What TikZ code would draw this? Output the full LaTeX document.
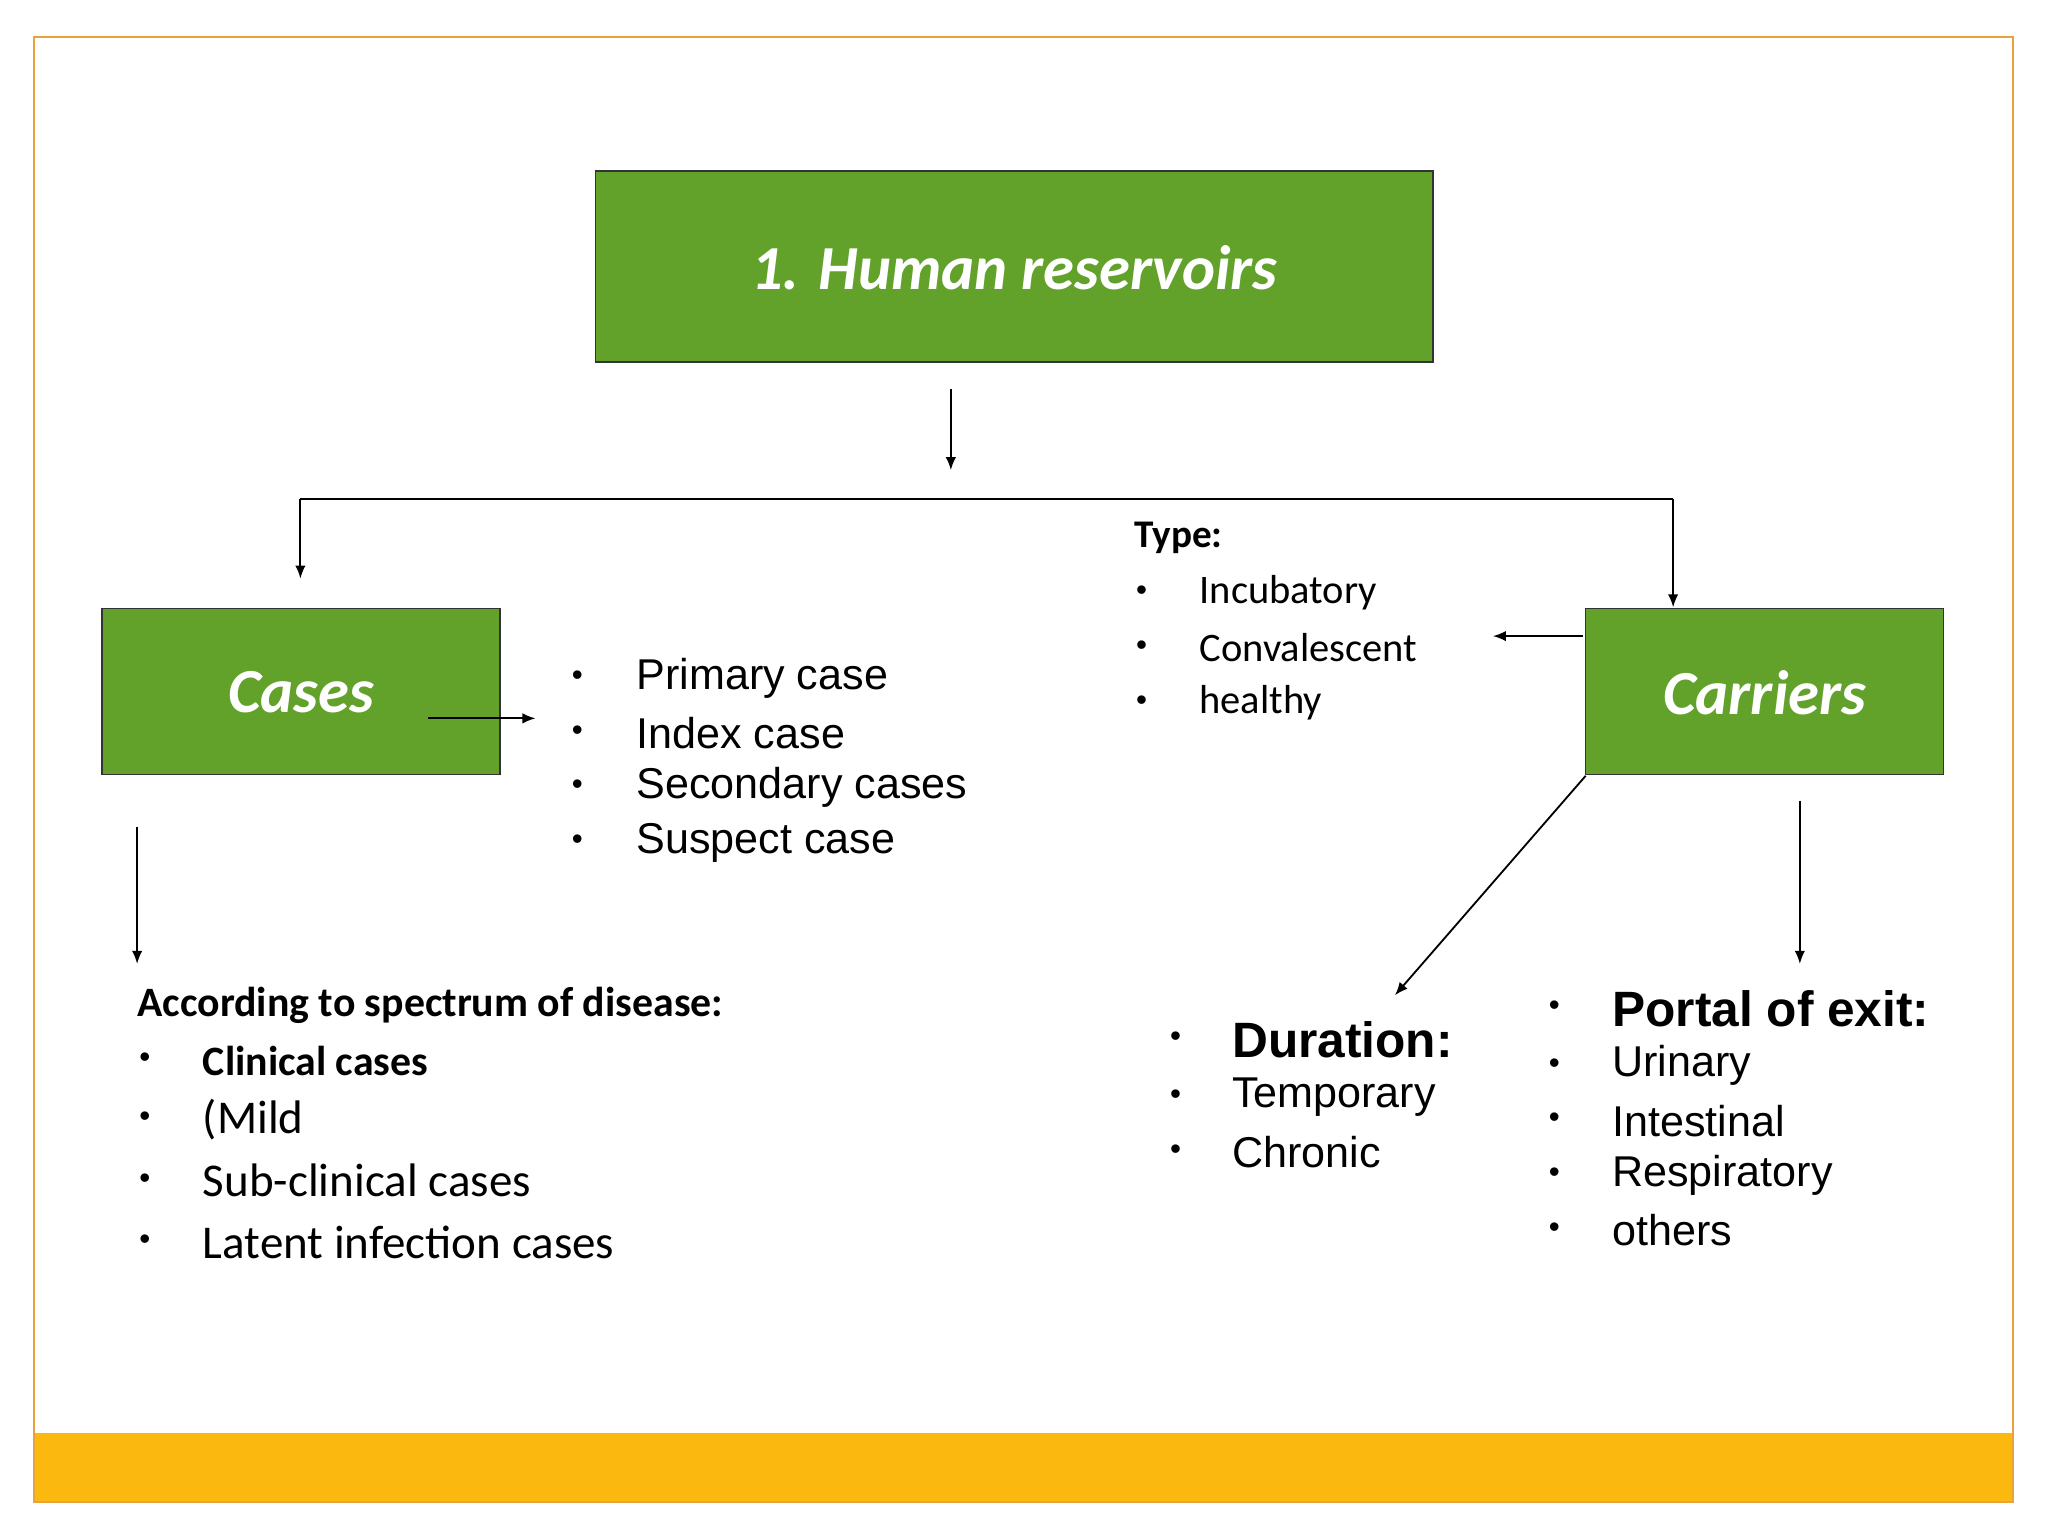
\documentclass[tikz,border=0pt]{standalone}
\usepackage{fontspec}
\setmainfont{Liberation Sans}
\newfontfamily\carl{Carlito}
\usetikzlibrary{arrows.meta}
\definecolor{gr}{HTML}{62A22B}
\definecolor{yb}{HTML}{FBB80F}
\definecolor{fr}{HTML}{E8A33A}
\begin{document}
\begin{tikzpicture}[x=0.5pt,y=-0.5pt,
  box/.style={draw=black!80,fill=gr,line width=0.6pt},
  arr/.style={-{Latex[length=5pt,width=4pt]},line width=0.7pt},
  ln/.style={line width=0.7pt},
  t/.style={anchor=west,inner sep=0pt,font=\fontsize{16.5}{18}\selectfont},
  tc/.style={anchor=west,inner sep=0pt,font=\carl\fontsize{16.5}{18}\selectfont},
  b/.style={anchor=center,inner sep=0pt,font=\fontsize{12}{14}\selectfont}]
\useasboundingbox (0,0) rectangle (1568,1176);
\fill[yb] (26,1097) rectangle (1541,1150);
\draw[fr,line width=0.8pt] (26,28) rectangle (1541,1150);
\draw[box] (456,131) rectangle (1097,277);
\node (top) at (776.5,205) {\carl\bfseries\itshape\fontsize{24}{28}\selectfont\color{white}1. Human reservoirs};
\draw[box] (78,466) rectangle (383,593);
\node (cases) at (230.5,530) {\carl\bfseries\itshape\fontsize{24}{28}\selectfont\color{white}Cases};
\draw[box] (1214,466) rectangle (1488,593);
\node (carr) at (1351,530) {\carl\bfseries\itshape\fontsize{24}{28}\selectfont\color{white}Carriers};
\coordinate (a1) at (728,298); \coordinate (a2) at (728,360);
\draw[arr] (a1) -- (a2);
\coordinate (l1) at (230,382); \coordinate (l2) at (1281,382);
\coordinate (l3) at (230,443); \coordinate (l4) at (1281,465);
\draw[ln] (l1) -- (l2);
\draw[arr] (l1) -- (l3); \draw[arr] (l2) -- (l4);
\coordinate (c1) at (328,550); \coordinate (c2) at (410,550);
\draw[arr] (c1) -- (c2);
\foreach \y/\s in {519/Primary case,561/Index case,603/Secondary cases,645/Suspect case}{
  \node[b] at (442,\y) {•}; \node[t] at (487,\y) {\s};}
\node[tc,font=\carl\bfseries\fontsize{15}{18}\selectfont] (type) at (868,412) {Type:};
\foreach \y/\s in {454/Incubatory,496/Convalescent,538/healthy}{
  \node[b] at (874,\y) {•}; \node[tc,font=\carl\fontsize{15.5}{18}\selectfont] at (918,\y) {\s};}
\coordinate (k1) at (1212,487); \coordinate (k2) at (1143,487);
\draw[arr] (k1) -- (k2);
\coordinate (d1) at (1214,594); \coordinate (d2) at (1068,762);
\draw[arr] (d1) -- (d2);
\coordinate (p1) at (1378,613); \coordinate (p2) at (1378,738);
\draw[arr] (p1) -- (p2);
\coordinate (s1) at (105,633); \coordinate (s2) at (105,738);
\draw[arr] (s1) -- (s2);
\node[tc,font=\carl\bfseries\fontsize{16}{18}\selectfont] at (105,770) {According to spectrum of disease:};
\node[b] at (111,812) {•}; \node[tc,font=\carl\bfseries\fontsize{16}{18}\selectfont] at (155,812) {Clinical cases};
\foreach \y/\s in {857/(Mild/severe-typical/atypical),904/Sub-clinical cases,951/Latent infection cases}{
  \node[b] at (111,\y) {•}; \node[tc,font=\carl\fontsize{18}{20}\selectfont] at (155,\y) {\s};}
\node[b] at (900,796) {•}; \node[t,font=\bfseries\fontsize{19}{22}\selectfont] at (943,796) {Duration:};
\foreach \y/\s in {840/Temporary,882/Chronic}{
  \node[b] at (900,\y) {•}; \node[t] at (943,\y) {\s};}
\node[b] at (1190,772) {•}; \node[t,font=\bfseries\fontsize{19}{22}\selectfont] at (1234,772) {Portal of exit:};
\foreach \y/\s in {816/Urinary,858/Intestinal,900/Respiratory,942/others}{
  \node[b] at (1190,\y) {•}; \node[t] at (1234,\y) {\s};}
\end{tikzpicture}
\end{document}
